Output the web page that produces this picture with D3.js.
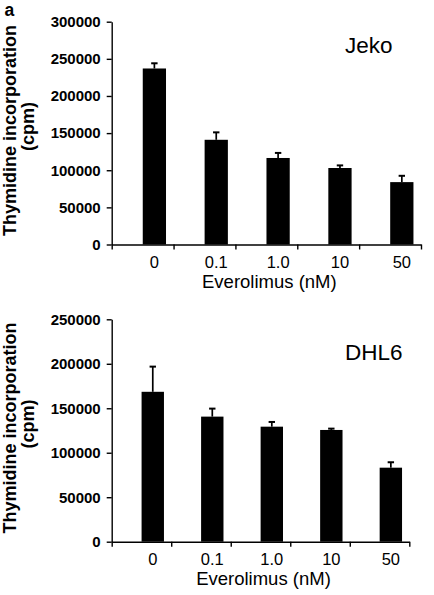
<!DOCTYPE html>
<html>
<head>
<meta charset="utf-8">
<title>Everolimus thymidine incorporation</title>
<style>
  body { margin: 0; background: #fff; }
  text { font-family: Arial, "Liberation Sans", sans-serif; }
</style>
</head>
<body>
<main></main>
<script src="https://cdnjs.cloudflare.com/ajax/libs/d3/7.8.5/d3.min.js"></script>
<script>
// data
var doses = ["0", "0.1", "1.0", "10", "50"];
var jekoMean = [237000, 141000, 116500, 103000, 84000];
var jekoErr  = [7000, 10000, 6800, 3500, 8500];
var dhl6Mean = [168500, 140600, 129300, 125600, 83200];
var dhl6Err  = [28300, 9000, 5300, 1500, 6100];
var jekoTicks = [0, 50000, 100000, 150000, 200000, 250000, 300000];
var dhl6Ticks = [0, 50000, 100000, 150000, 200000, 250000];

var W = 434, H = 595;
var svg = d3.select("main").append("svg")
    .attr("width", W).attr("height", H);

// panel letter
svg.append("text")
    .attr("x", 4.5).attr("y", 15.8)
    .attr("font-size", "17.5px").attr("font-weight", "bold")
    .text("a");

function panel(opt) {
    var g = svg.append("g");

    var y = d3.scaleLinear()
        .domain([0, opt.ticks[opt.ticks.length - 1]])
        .range([opt.y0, opt.y1]);

    // categories share equal bands between the axis tick marks
    var x = d3.scaleBand()
        .domain(doses)
        .range([opt.x0, opt.x1])
        .paddingInner(0).paddingOuter(0);
    var bw = x.bandwidth();
    var barW = bw * 0.376;
    // bars sit in the right half of each band, as in the original
    function barLeft(d) { return x(d) + bw * 0.502; }
    function barMid(d) { return barLeft(d) + barW / 2; }

    // y axis
    var yAxis = g.append("g")
        .attr("transform", "translate(" + opt.x0 + ",0)")
        .call(d3.axisLeft(y).tickValues(opt.ticks)
            .tickFormat(d3.format("d")).tickSize(5).tickSizeOuter(0).tickPadding(6));
    yAxis.selectAll("text")
        .attr("font-family", "Arial, 'Liberation Sans', sans-serif")
        .attr("font-size", "15px").attr("font-weight", "bold").attr("fill", "#000");

    // x axis: tick marks at band boundaries, no labels
    var xi = d3.scaleLinear().domain([0, doses.length]).range([opt.x0, opt.x1]);
    g.append("g")
        .attr("transform", "translate(0," + opt.y0 + ")")
        .call(d3.axisBottom(xi).ticks(doses.length).tickFormat("")
            .tickSize(5).tickSizeOuter(0));

    g.selectAll(".domain, .tick line")
        .attr("stroke", "#000").attr("stroke-width", 1.4);

    // bars
    g.selectAll("rect.bar")
        .data(doses)
        .enter().append("rect")
        .attr("class", "bar")
        .attr("x", barLeft)
        .attr("width", barW)
        .attr("y", function (d, i) { return y(opt.mean[i]); })
        .attr("height", function (d, i) { return opt.y0 - y(opt.mean[i]); })
        .attr("fill", "#000");

    // error bars (upper only)
    g.selectAll("line.err")
        .data(doses)
        .enter().append("line")
        .attr("class", "err")
        .attr("x1", barMid).attr("x2", barMid)
        .attr("y1", function (d, i) { return y(opt.mean[i]); })
        .attr("y2", function (d, i) { return y(opt.mean[i] + opt.err[i]); })
        .attr("stroke", "#000").attr("stroke-width", 1.7);
    g.selectAll("line.cap")
        .data(doses)
        .enter().append("line")
        .attr("class", "cap")
        .attr("x1", function (d) { return barMid(d) - 3.2; })
        .attr("x2", function (d) { return barMid(d) + 3.2; })
        .attr("y1", function (d, i) { return y(opt.mean[i] + opt.err[i]); })
        .attr("y2", function (d, i) { return y(opt.mean[i] + opt.err[i]); })
        .attr("stroke", "#000").attr("stroke-width", 2);

    // category labels under the bars
    g.selectAll("text.cat")
        .data(doses)
        .enter().append("text")
        .attr("class", "cat")
        .attr("x", barMid)
        .attr("y", opt.y0 + 23.5)
        .attr("text-anchor", "middle")
        .attr("font-size", "16.5px")
        .text(function (d) { return d; });

    // x title
    g.append("text")
        .attr("x", (opt.x0 + opt.x1) / 2 + 3)
        .attr("y", opt.y0 + 43.5)
        .attr("text-anchor", "middle")
        .attr("font-size", "18.5px")
        .text("Everolimus (nM)");

    // y title, two lines
    var cy = (opt.y0 + opt.y1) / 2 - 2.5;
    var yt = g.append("text")
        .attr("transform", "translate(16," + cy + ") rotate(-90)")
        .attr("text-anchor", "middle")
        .attr("font-size", "18px").attr("font-weight", "bold");
    yt.append("tspan").attr("x", 0).attr("y", 0).text("Thymidine incorporation");
    yt.append("tspan").attr("x", 4).attr("y", 17.6).text("(cpm)");

    // cell line label
    g.append("text")
        .attr("x", 345).attr("y", opt.labelY)
        .attr("font-size", "22.5px")
        .text(opt.name);
}

panel({
    name: "Jeko", mean: jekoMean, err: jekoErr, ticks: jekoTicks,
    x0: 111.7, x1: 421, y0: 244.5, y1: 21.7, labelY: 53.3
});
panel({
    name: "DHL6", mean: dhl6Mean, err: dhl6Err, ticks: dhl6Ticks,
    x0: 111.7, x1: 409.3, y0: 541.7, y1: 319.3, labelY: 359.5
});
</script>
</body>
</html>
